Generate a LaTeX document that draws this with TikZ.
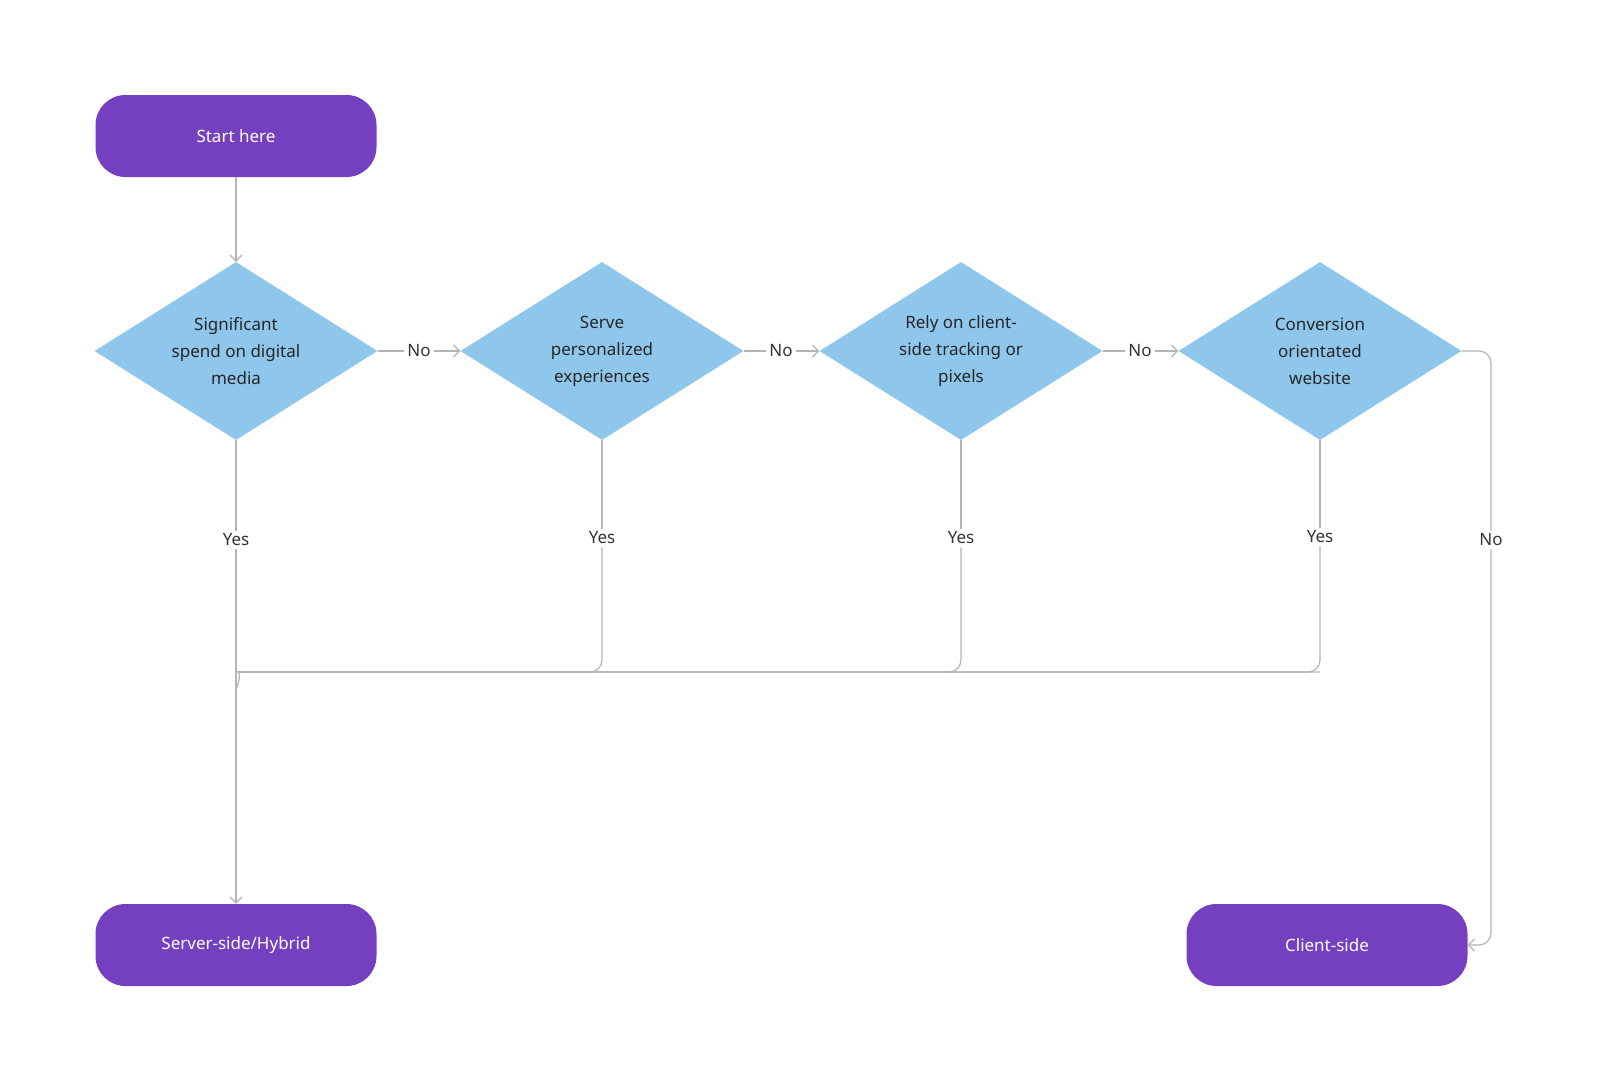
\documentclass[tikz,border=0pt]{standalone}
\usepackage{fontspec}
\setmainfont{Noto Sans}
\usetikzlibrary{shapes.geometric,arrows.meta}
\definecolor{pur}{HTML}{7540BF}
\definecolor{dblue}{HTML}{8FC6EB}
\definecolor{ln}{HTML}{B4B4B4}
\begin{document}
\begin{tikzpicture}[x=1pt,y=-1pt,
 term/.style={fill=pur,rounded corners=30pt,minimum width=281pt,minimum height=82pt,text=white,font=\fontsize{17}{20}\selectfont\bfseries},
 dec/.style={diamond,fill=dblue,aspect=1.59,minimum width=283pt,minimum height=178pt,inner sep=0pt,align=center,font=\fontsize{17}{27}\selectfont\bfseries,text=black!85},
 lab/.style={font=\fontsize{17}{20}\selectfont,text=black!80,inner sep=3pt},
 con/.style={draw=ln,line width=1.2pt},
 arr/.style={con,-{Straight Barb[length=6pt,width=12pt]}}]
\useasboundingbox (0,0) rectangle (1600,1077);
\node[term] (start) at (236,136) {Start here};
\node[dec] (d1) at (236,351) {Significant\\spend on digital\\media};
\node[dec] (d2) at (602,351) {Serve\\personalized\\experiences};
\node[dec] (d3) at (961,351) {Rely on client-\\side tracking or\\pixels};
\node[dec] (d4) at (1320,351) {Conversion\\orientated\\website};
\node[term] (srv) at (236,945) {Server-side/Hybrid};
\node[term] (cli) at (1327,945) {Client-side};
\node[lab] (n1) at (419,351) {No};
\node[lab] (n2) at (781,351) {No};
\node[lab] (n3) at (1140,351) {No};
\node[lab] (y1) at (236,540) {Yes};
\node[lab] (y2) at (602,538) {Yes};
\node[lab] (y3) at (961,538) {Yes};
\node[lab] (y4) at (1320,537) {Yes};
\node[lab] (n4) at (1491,540) {No};
\coordinate (m) at (236,672);
\draw[arr] (start) -- (d1);
\draw[con] (d1) -- (n1); \draw[arr] (n1) -- (d2);
\draw[con] (d2) -- (n2); \draw[arr] (n2) -- (d3);
\draw[con] (d3) -- (n3); \draw[arr] (n3) -- (d4);
\draw[con] (d1) -- (y1); \draw[arr] (y1) -- (srv);
\draw[con] (d2) -- (y2); \draw[con] (d3) -- (y3); \draw[con] (d4) -- (y4);
\draw[con,rounded corners=12pt] (y4) |- (m);
\draw[con,rounded corners=12pt] (y3) |- (m);
\draw[con,rounded corners=12pt] (y2) |- (m);
\draw[con,rounded corners=12pt] (1320,672) -- (250,672) to[out=180,in=-90] (236,686);
\draw[con,rounded corners=12pt] (d4.east) -| (n4);
\draw[arr,rounded corners=12pt] (n4) |- (cli);
\end{tikzpicture}
\end{document}
